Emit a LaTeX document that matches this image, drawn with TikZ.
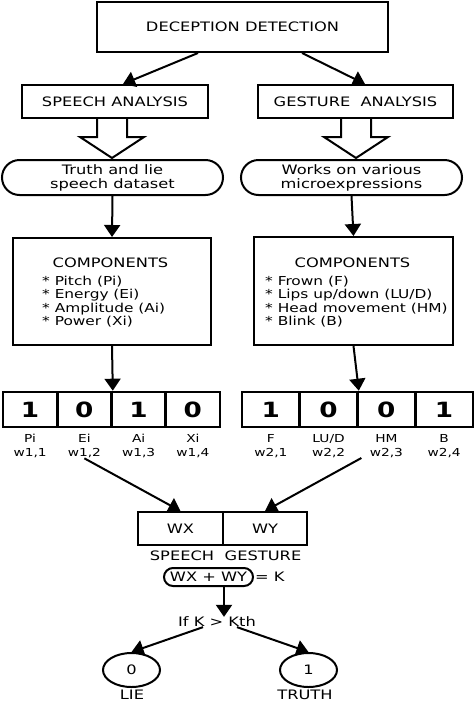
\documentclass[tikz,border=0pt]{standalone}
\usepackage{fontspec}
\setmainfont{DejaVu Sans}[FakeStretch=1.25]
\usetikzlibrary{arrows.meta,shapes.geometric,shapes.misc,positioning}

\begin{document}
\begin{tikzpicture}[x=1pt,y=-1pt,
        box/.style={draw, line width=2pt, inner sep=0pt, font=\fontsize{13}{15}\selectfont},
        oval/.style={draw, rounded rectangle, line width=2pt, inner sep=0pt, align=center, font=\fontsize{13}{14}\selectfont},
        bit/.style={draw, line width=2.6pt, minimum height=35pt, inner sep=0pt, font=\fontsize{21}{21}\bfseries\selectfont},
        arr/.style={-{Triangle[length=12pt,width=16pt]}, line width=2pt},
        hollow/.style={draw, line width=2pt},
        txt/.style={inner sep=0pt, font=\fontsize{13}{15}\selectfont},
        lbl/.style={inner sep=0pt, align=center, font=\fontsize{11}{14}\selectfont}]
        
            \useasboundingbox (0,0) rectangle (474,702);
        
            % top of the tree
            \node[box, minimum width=291pt, minimum height=50pt] (det) at (242.5,27) {DECEPTION DETECTION};
            \node[box, minimum width=186pt, minimum height=33pt] (spa) at (115,101.5) {SPEECH ANALYSIS};
            \node[box, minimum width=195pt, minimum height=33pt] (gea) at (355.5,101.5) {GESTURE\ \ ANALYSIS};
            \draw[arr] ([xshift=-44.5pt]det.south) -- ([xshift=8pt]spa.north);
            \draw[arr] ([xshift=59.5pt]det.south) -- ([xshift=9.5pt]gea.north);
        
            % hollow arrows
            \foreach \x in {112,356}
                \draw[hollow] ({\x-15},118) -- ({\x-15},137) -- ({\x-32},137) -- (\x,158) -- ({\x+32},137) -- ({\x+15},137) -- ({\x+15},118);
        
            \node[oval, minimum width=221pt, minimum height=35pt] (datL) at (112.5,177.5) {Truth and lie\\speech dataset};
            \node[oval, minimum width=221pt, minimum height=35pt] (datR) at (351.5,177.5) {Works on various\\microexpressions};
        
            % components
            \node[box, minimum width=198pt, minimum height=107pt] (compL) at (112,291.5) {};
            \node[box, minimum width=199pt, minimum height=108pt] (compR) at (353.5,291) {};
            \node[txt] (ctL) at (110.5,263) {COMPONENTS};
            \node[txt] (ctR) at (352.5,263) {COMPONENTS};
            \node[txt, font=\fontsize{12.3}{13.3}\selectfont, anchor=north west, align=left] (itL) at (42,276)
                {* Pitch (Pi)\\* Energy (Ei)\\* Amplitude (Ai)\\* Power (Xi)};
            \node[txt, font=\fontsize{12.3}{13.3}\selectfont, anchor=north west, align=left] (itR) at (265,276)
                {* Frown (F)\\* Lips up/down (LU/D)\\* Head movement (HM)\\* Blink (B)};
            \draw[arr] (datL.south) -- (compL.north);
            \draw[arr] (datR.south) -- (compR.north);
        
            % bit rows
            \foreach \v [count=\i] in {1,0,1,0}
                \node[bit, minimum width=54.25pt] (l\i) at ({3+54.25*(\i-0.5)},409.5) {\v};
            \foreach \v [count=\i] in {1,0,0,1}
                \node[bit, minimum width=57.75pt] (r\i) at ({242+57.75*(\i-0.5)},409.5) {\v};
            \draw[arr] (compL.south) -- (l2.north east);
            \draw[arr] (compR.south) -- (r2.north east);
        
            \foreach \n [count=\i] in {Pi,Ei,Ai,Xi}
                \node[lbl, anchor=north] (ll\i) at ([yshift=-6pt]l\i.south) {\n\\w1,\i};
            \foreach \n [count=\i] in {F,LU/D,HM,B}
                \node[lbl, anchor=north] (lr\i) at ([yshift=-6pt]r\i.south) {\n\\w2,\i};
        
            % weighted sum
            \node[box, minimum width=85pt, minimum height=33pt] (wx) at (180.5,528.5) {WX};
            \node[box, minimum width=84pt, minimum height=33pt] (wy) at (265,528.5) {WY};
            \draw[arr] (ll2.south) -- (wx.north);
            \draw[arr] ([xshift=-25pt]lr3.south) -- (wy.north);
            \node[txt] (spl) at (182,556) {SPEECH};
            \node[txt] (gel) at (263,556) {GESTURE};
            \node[oval, minimum width=89pt, minimum height=18pt] (sum) at (208.5,577) {WX + WY};
            \node[txt, anchor=west] (eqk) at ([xshift=1pt]sum.east) {= K};
            \node[txt] (ifk) at (217,622) {If K > Kth};
            \draw[arr] (sum.south -| wx.east) -- (ifk.north -| wx.east);
        
            % decision
            \node[draw, ellipse, line width=2pt, minimum width=57pt, minimum height=34pt, font=\fontsize{13}{14}\selectfont] (lie) at (131.5,670) {0};
            \node[draw, ellipse, line width=2pt, minimum width=57pt, minimum height=34pt, font=\fontsize{13}{14}\selectfont] (tru) at (308.5,670) {1};
            \draw[arr] ([xshift=-14pt]ifk.south) -- (lie.north);
            \draw[arr] ([xshift=20pt]ifk.south) -- (tru.north);
            \node[txt] (liel) at (132,694.5) {LIE};
            \node[txt] (trul) at (305,694.5) {TRUTH};
        \end{tikzpicture}
\end{document}
